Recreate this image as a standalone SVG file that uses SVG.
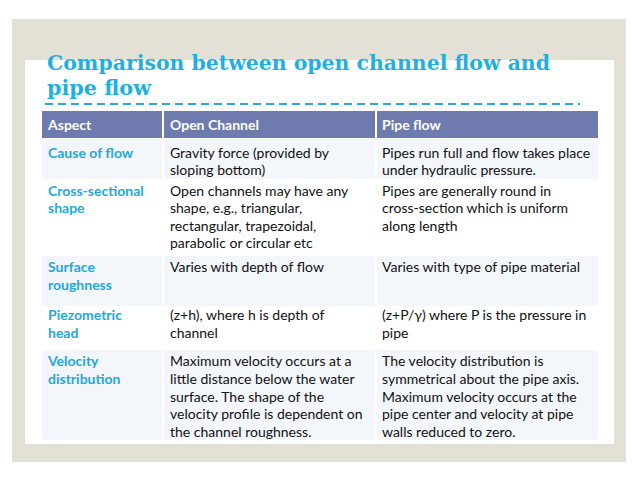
<svg xmlns="http://www.w3.org/2000/svg" width="638" height="478" viewBox="0 0 638 478">
<style>
.t{font-family:"DejaVu Serif",serif;font-weight:bold;font-size:20px;fill:#1fb0e2}
.h{font-family:Lato,"Liberation Sans",sans-serif;font-weight:bold;font-size:14px;fill:#fff}
.a{font-family:Lato,"Liberation Sans",sans-serif;font-weight:bold;font-size:14px;fill:#22a8de}
.c{font-family:Lato,"Liberation Sans",sans-serif;font-size:14px;fill:#111}
.r{fill:#f3f6fb}
.s{stroke:#fff;stroke-width:2}
</style>
<rect x="12" y="19" width="614" height="443" fill="#e3e0d6"/>
<rect x="25" y="60" width="589" height="384" fill="#fff"/>
<text class="t" x="47" y="70" textLength="503" lengthAdjust="spacingAndGlyphs">Comparison between open channel flow and</text>
<text class="t" x="47" y="95" textLength="104" lengthAdjust="spacingAndGlyphs">pipe flow</text>
<line x1="45" y1="104" x2="580" y2="104" stroke="#2aa8d8" stroke-width="2" stroke-dasharray="8,5"/>
<g id="header">
<rect x="42" y="111" width="556" height="27" fill="#6f7aae"/>
<line class="s" x1="163" y1="111" x2="163" y2="138"/>
<line class="s" x1="376" y1="111" x2="376" y2="138"/>
<text class="h" x="48" y="130">Aspect</text>
<text class="h" x="170" y="130">Open Channel</text>
<text class="h" x="382" y="130">Pipe flow</text>
</g>
<g id="row1">
<rect class="r" x="42" y="139" width="556" height="40"/>
<text class="a" x="48" y="158">Cause of flow</text>
<text class="c" x="170" y="158">Gravity force (provided by</text>
<text class="c" x="170" y="175">sloping bottom)</text>
<text class="c" x="382" y="158">Pipes run full and flow takes place</text>
<text class="c" x="382" y="175">under hydraulic pressure.</text>
</g>
<g id="row2">
<text class="a" x="48" y="196">Cross-sectional</text>
<text class="a" x="48" y="213">shape</text>
<text class="c" x="170" y="196">Open channels may have any</text>
<text class="c" x="170" y="213">shape,  e.g., triangular,</text>
<text class="c" x="170" y="231">rectangular, trapezoidal,</text>
<text class="c" x="170" y="248">parabolic or  circular etc</text>
<text class="c" x="382" y="196">Pipes are generally round in</text>
<text class="c" x="382" y="213">cross-section which is uniform</text>
<text class="c" x="382" y="231">along length</text>
</g>
<g id="row3">
<rect class="r" x="42" y="256" width="556" height="50"/>
<text class="a" x="48" y="272">Surface</text>
<text class="a" x="48" y="290">roughness</text>
<text class="c" x="170" y="272">Varies with depth of flow</text>
<text class="c" x="382" y="272">Varies with type of pipe material</text>
</g>
<g id="row4">
<text class="a" x="48" y="320">Piezometric</text>
<text class="a" x="48" y="338">head</text>
<text class="c" x="170" y="320">(z+h), where h is depth of</text>
<text class="c" x="170" y="338">channel</text>
<text class="c" x="382" y="320">(z+P/γ) where P is the pressure in</text>
<text class="c" x="382" y="338">pipe</text>
</g>
<g id="row5">
<rect class="r" x="42" y="350" width="556" height="90"/>
<text class="a" x="48" y="366">Velocity</text>
<text class="a" x="48" y="384">distribution</text>
<text class="c" x="170" y="366">Maximum velocity occurs at a</text>
<text class="c" x="170" y="384">little distance below the water</text>
<text class="c" x="170" y="402">surface. The shape of the</text>
<text class="c" x="170" y="419">velocity profile is dependent on</text>
<text class="c" x="170" y="437">the channel roughness.</text>
<text class="c" x="382" y="366">The velocity distribution is</text>
<text class="c" x="382" y="384">symmetrical about the pipe axis.</text>
<text class="c" x="382" y="402">Maximum velocity occurs at the</text>
<text class="c" x="382" y="419">pipe center and velocity at pipe</text>
<text class="c" x="382" y="437">walls reduced to zero.</text>
</g>
<g id="cols">
<line class="s" x1="163" y1="139" x2="163" y2="440"/>
<line class="s" x1="376" y1="139" x2="376" y2="440"/>
</g>
</svg>
